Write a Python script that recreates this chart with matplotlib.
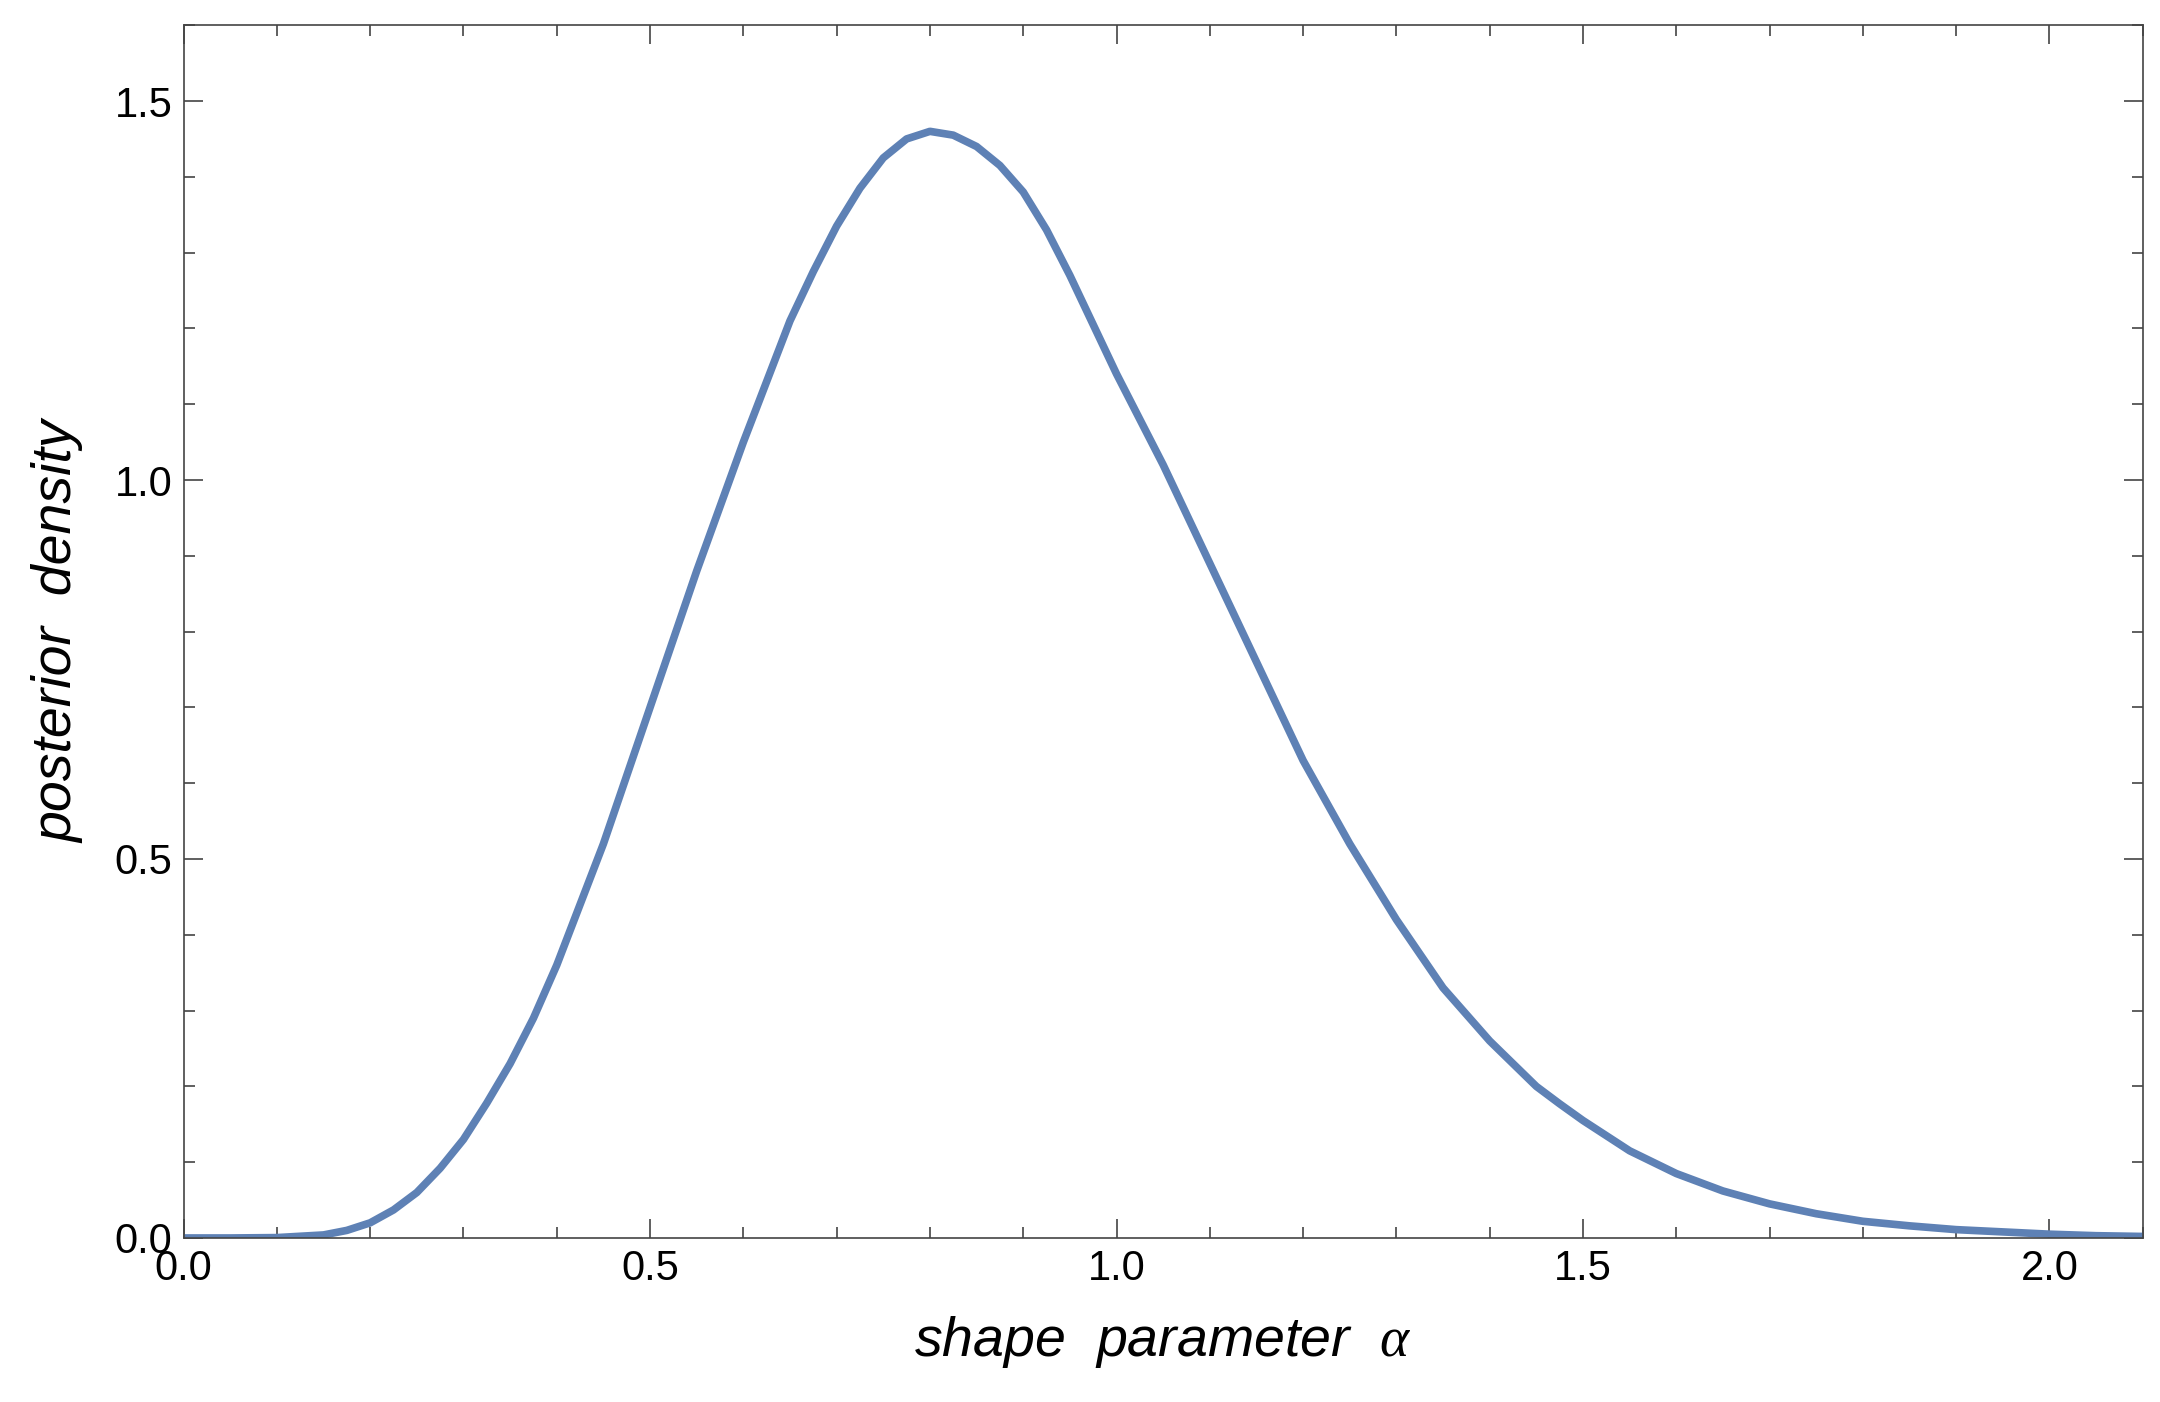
import matplotlib.pyplot as plt
from matplotlib.ticker import MultipleLocator

# posterior density
alpha = [0.0, 0.05, 0.1, 0.15, 0.175, 0.2, 0.225, 0.25, 0.275, 0.3, 0.325,
         0.35, 0.375, 0.4, 0.425, 0.45, 0.475, 0.5, 0.525, 0.55, 0.575, 0.6,
         0.625, 0.65, 0.675, 0.7, 0.725, 0.75, 0.775, 0.8, 0.825, 0.85, 0.875,
         0.9, 0.925, 0.95, 0.975, 1.0, 1.025, 1.05, 1.075, 1.1, 1.125, 1.15,
         1.175, 1.2, 1.225, 1.25, 1.275, 1.3, 1.325, 1.35, 1.375, 1.4, 1.425,
         1.45, 1.475, 1.5, 1.525, 1.55, 1.575, 1.6, 1.65, 1.7, 1.75, 1.8,
         1.85, 1.9, 1.95, 2.0, 2.05, 2.1]
density = [0.0, 0.0, 0.0005, 0.004, 0.01, 0.02, 0.037, 0.06, 0.092, 0.13,
           0.178, 0.23, 0.29, 0.36, 0.44, 0.52, 0.61, 0.70, 0.79, 0.88, 0.965,
           1.05, 1.13, 1.21, 1.275, 1.335, 1.385, 1.425, 1.45, 1.46, 1.455,
           1.44, 1.415, 1.38, 1.33, 1.27, 1.205, 1.14, 1.08, 1.02, 0.955,
           0.89, 0.825, 0.76, 0.695, 0.63, 0.575, 0.52, 0.47, 0.42, 0.375,
           0.33, 0.295, 0.26, 0.23, 0.20, 0.177, 0.155, 0.135, 0.115, 0.1,
           0.085, 0.062, 0.045, 0.032, 0.022, 0.016, 0.011, 0.008, 0.005,
           0.003, 0.002]

plt.rcParams['font.family'] = ['Liberation Sans', 'DejaVu Sans']
plt.rcParams['mathtext.fontset'] = 'custom'
plt.rcParams['mathtext.it'] = 'Liberation Serif:italic'

fig = plt.figure(figsize=(21.6, 14.02), dpi=100)
ax = fig.add_axes([0.085, 0.117, 0.907, 0.865])
ax.plot(alpha, density, color='#5E81B5', linewidth=5.5,
        solid_joinstyle='round', solid_capstyle='round')

ax.set_xlim(0, 2.1)
ax.set_ylim(0, 1.6)
ax.xaxis.set_major_locator(MultipleLocator(0.5))
ax.xaxis.set_minor_locator(MultipleLocator(0.1))
ax.yaxis.set_major_locator(MultipleLocator(0.5))
ax.yaxis.set_minor_locator(MultipleLocator(0.1))
ax.xaxis.set_major_formatter(lambda v, p: f"{v:.1f}")
ax.yaxis.set_major_formatter(lambda v, p: f"{v:.1f}")
ax.tick_params(which='both', direction='in', top=True, right=True,
               labelsize=30, color='#444444', width=1.2, pad=8)
ax.tick_params(which='major', length=14)
ax.tick_params(which='minor', length=8)
for side in ['top', 'left', 'bottom', 'right']:
    ax.spines[side].set_color('#444444')
    ax.spines[side].set_linewidth(1.2)

ax.set_xlabel(r'shape  parameter  $\alpha$', fontsize=40, style='italic', labelpad=18)
ax.set_ylabel('posterior  density', fontsize=40, style='italic', labelpad=22)

fig.savefig('out.png', dpi=100)
